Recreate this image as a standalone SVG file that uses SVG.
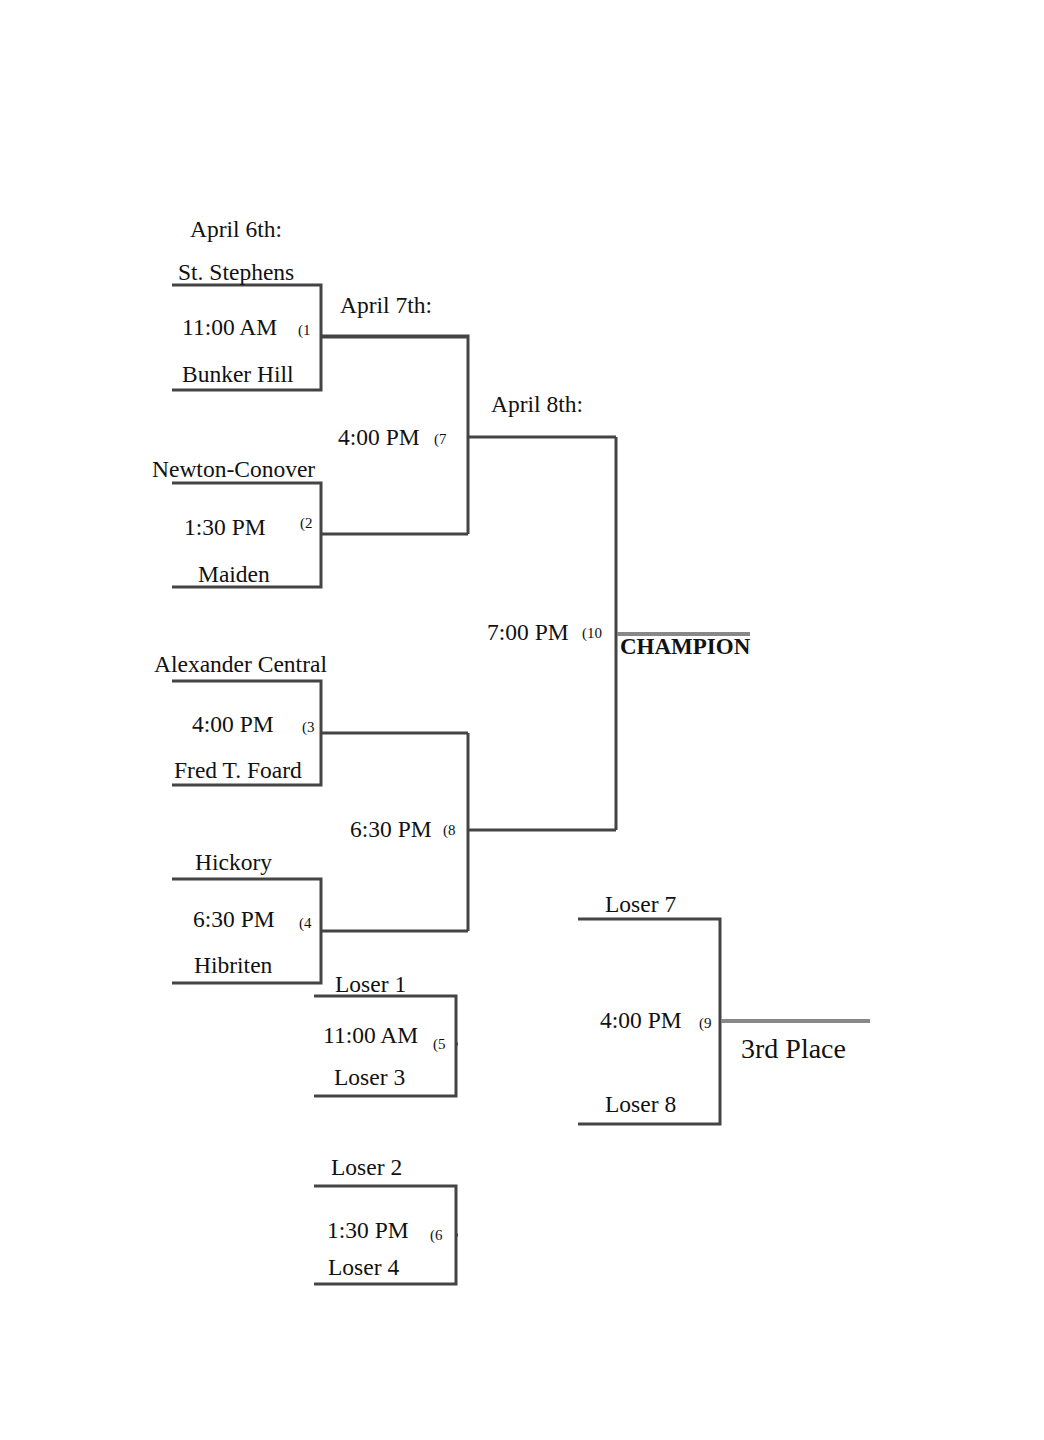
<svg xmlns="http://www.w3.org/2000/svg" width="1044" height="1440" viewBox="0 0 1044 1440">
<style>
text{font-family:"Liberation Serif","Times New Roman",serif;fill:#111;font-size:23.5px}
.n{font-size:15px}
.b{font-weight:bold;font-size:23px}
.big{font-size:28px}
.ln{fill:none;stroke:#444;stroke-width:3;stroke-linejoin:miter}
.gl{fill:none;stroke:#888;stroke-width:4}
</style>
<rect width="1044" height="1440" fill="#fff"/>
<g id="connectors">
<path class="ln" d="M172 285H321V390H172"/>
<path class="ln" d="M321 337H468"/>
<path class="ln" d="M172 483H321V587H172"/>
<path class="ln" d="M321 534H468"/>
<path class="ln" d="M321 336H468V534"/>
<path class="ln" d="M468 437H616"/>
<path class="ln" d="M172 681H321V785H172"/>
<path class="ln" d="M321 733H468"/>
<path class="ln" d="M172 879H321V983H172"/>
<path class="ln" d="M321 931H468"/>
<path class="ln" d="M468 733V931"/>
<path class="ln" d="M468 830H616"/>
<path class="ln" d="M616 437V830"/>
<path class="gl" d="M617 634H750"/>
<path class="ln" d="M314 996H456V1096H314"/>
<path class="ln" d="M456 1044H458"/>
<path class="ln" d="M314 1186H456V1284H314"/>
<path class="ln" d="M456 1235H458"/>
<path class="ln" d="M578 919H720V1124H578"/>
<path class="gl" d="M721 1021H870"/>
</g>
<g id="headers">
<text x="190" y="237">April 6th:</text>
<text x="340" y="313">April 7th:</text>
<text x="491" y="412">April 8th:</text>
</g>
<g id="game1">
<text x="178" y="280">St. Stephens</text>
<text x="182" y="335">11:00 AM</text>
<text class="n" x="298" y="335">(1</text>
<text x="182" y="382">Bunker Hill</text>
</g>
<g id="game2">
<text x="152" y="477">Newton-Conover</text>
<text x="184" y="535">1:30 PM</text>
<text class="n" x="300" y="528">(2</text>
<text x="198" y="582">Maiden</text>
</g>
<g id="game3">
<text x="154" y="672">Alexander Central</text>
<text x="192" y="732">4:00 PM</text>
<text class="n" x="302" y="732">(3</text>
<text x="174" y="778">Fred T. Foard</text>
</g>
<g id="game4">
<text x="195" y="870">Hickory</text>
<text x="193" y="927">6:30 PM</text>
<text class="n" x="299" y="928">(4</text>
<text x="194" y="973">Hibriten</text>
</g>
<g id="game7">
<text x="338" y="445">4:00 PM</text>
<text class="n" x="434" y="444">(7</text>
</g>
<g id="game8">
<text x="350" y="837">6:30 PM</text>
<text class="n" x="443" y="835">(8</text>
</g>
<g id="game10">
<text x="487" y="640">7:00 PM</text>
<text class="n" x="582" y="638">(10</text>
<text class="b" x="620" y="654">CHAMPION</text>
</g>
<g id="game5">
<text x="335" y="992">Loser 1</text>
<text x="323" y="1043">11:00 AM</text>
<text class="n" x="433" y="1049">(5</text>
<text x="334" y="1085">Loser 3</text>
</g>
<g id="game6">
<text x="331" y="1175">Loser 2</text>
<text x="327" y="1238">1:30 PM</text>
<text class="n" x="430" y="1240">(6</text>
<text x="328" y="1275">Loser 4</text>
</g>
<g id="game9">
<text x="605" y="912">Loser 7</text>
<text x="600" y="1028">4:00 PM</text>
<text class="n" x="699" y="1028">(9</text>
<text class="big" x="741" y="1058">3rd Place</text>
<text x="605" y="1112">Loser 8</text>
</g>
</svg>
